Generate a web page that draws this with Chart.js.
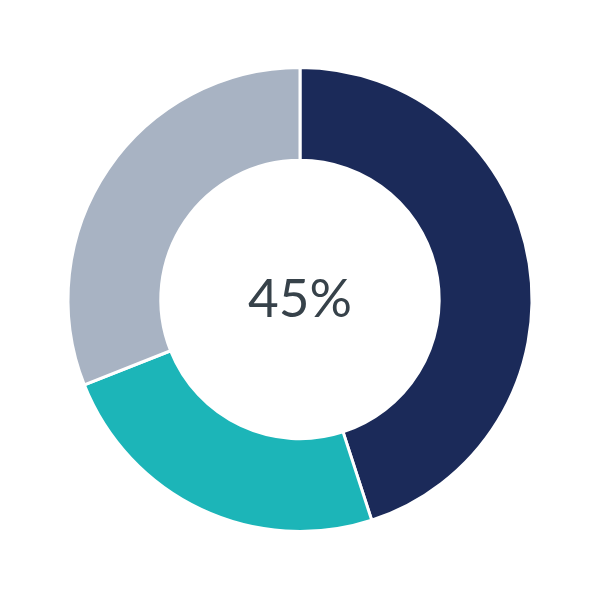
<!DOCTYPE html>
<html>
<head>
<meta charset="utf-8">
<script src="https://cdn.jsdelivr.net/npm/chart.js@4/dist/chart.umd.min.js"></script>
<style>
  html, body { margin: 0; padding: 0; background: #fff; }
  #wrap { width: 600px; height: 599px; }
</style>
</head>
<body>
<div id="wrap"><canvas id="donut"></canvas></div>
<script>
var labels = ['Segment A', 'Segment B', 'Segment C'];
var values = [45, 24, 31];
var colors = ['#1b2a59', '#1cb5b8', '#a8b3c3'];
var centerLabel = '45%';

// draws the big number in the hole
var centerText = {
    id: 'centerText',
    afterDraw: function(chart) {
        var meta = chart.getDatasetMeta(0).data[0];
        var ctx = chart.ctx;
        ctx.save();
        ctx.font = '400 53px Lato';
        ctx.fillStyle = '#37424a';
        ctx.textAlign = 'center';
        ctx.textBaseline = 'middle';
        ctx.fillText(centerLabel, meta.x, meta.y);
        ctx.restore();
    }
};

var ctx = document.getElementById('donut');
var chart = new Chart(ctx, {
    type: 'doughnut',
    data: {
        labels: labels,
        datasets: [{
            data: values,
            backgroundColor: colors,
            borderColor: '#ffffff',
            borderWidth: 3
        }]
    },
    options: {
        responsive: true,
        maintainAspectRatio: false,
        animation: false,
        cutout: '60%',
        layout: {padding: 66},
        plugins: {legend: {display: false}, tooltip: {enabled: false}}
    },
    plugins: [centerText]
});
</script>
</body>
</html>
